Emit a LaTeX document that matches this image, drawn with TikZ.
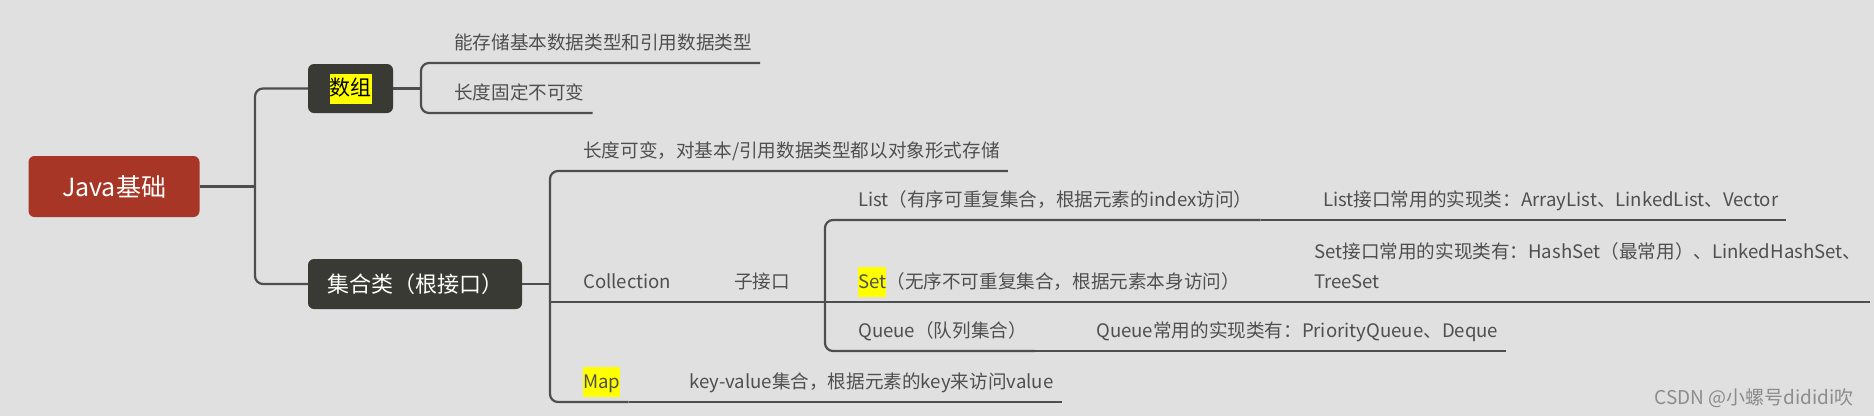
\documentclass[tikz,border=0pt]{standalone}
\usepackage{fontspec}
\setmainfont{Noto Sans CJK SC}
\usetikzlibrary{calc}

\definecolor{bgpaper}{HTML}{E0E0E0}
\definecolor{rootred}{HTML}{A83626}
\definecolor{boxdark}{HTML}{393A33}
\definecolor{linegray}{HTML}{4E4E4E}
\definecolor{txtgray}{HTML}{4F4F4F}
\definecolor{hlyellow}{HTML}{FFFF00}
\definecolor{markgray}{HTML}{8C8C8C}

\newcommand{\hlmark}[1]{{\setlength{\fboxsep}{0pt}\colorbox{hlyellow}{\rule[-8pt]{0pt}{30pt}#1}}}

\begin{document}
\begin{tikzpicture}[
    x=1pt, y=-1pt,
    rootbox/.style={rectangle, rounded corners=6pt, fill=rootred, text=white, font=\fontsize{25}{28}\selectfont, minimum width=171pt, minimum height=61pt},
    topbox/.style={rectangle, rounded corners=6pt, fill=boxdark, text=white, font=\fontsize{22}{26}\selectfont, minimum height=50pt},
    leafbase/.style={anchor=south west, inner xsep=8pt, inner ysep=8pt, text=txtgray, font=\fontsize{18.6}{30}\selectfont},
    leaf/.style={leafbase, text height=14pt, text depth=5pt},
    branch/.style={draw=linegray, line width=2.2pt},
    wmark/.style={text=markgray, font=\fontsize{19}{22}\selectfont, anchor=east}
]

\fill[bgpaper] (0,0) rectangle (1874,416);
\useasboundingbox (0,0) rectangle (1874,416);

\node[rootbox] (java) at (114,186.5) {Java基础};
\node[topbox, minimum width=85pt, minimum height=49pt, font=\fontsize{21}{24}\selectfont] (arr) at (350.5,88.5) {{\color{black}\hlmark{数组}}};
\node[topbox, minimum width=214pt] (coll) at (415,284) {集合类（根接口）};

\coordinate (jfork) at (255,186.5);
\coordinate (afork) at (421,88.5);
\coordinate (bfork) at (550,284);
\coordinate (cfork) at (825,302);

\node[leaf] (a1) at (446,63) {能存储基本数据类型和引用数据类型};
\node[leaf] (a2) at (446,113) {长度固定不可变};

\node[leaf] (b1) at (575,171) {长度可变，对基本/引用数据类型都以对象形式存储};
\node[leaf] (b2) at (575,302) {Collection};
\node[leaf] (sub) at (726,302) {子接口};
\node[leaf] (b3) at (575,402) {\hlmark{Map}};
\node[leaf] (mx) at (681,402) {key-value集合，根据元素的key来访问value};

\node[leaf] (c1) at (850,220) {List（有序可重复集合，根据元素的index访问）};
\node[leaf] (c1x) at (1315,220) {List接口常用的实现类：ArrayList、LinkedList、Vector};
\node[leaf] (c2) at (850,302) {\hlmark{Set}（无序不可重复集合，根据元素本身访问）};
\node[leafbase, align=left] (c2x) at (1306,302) {Set接口常用的实现类有：HashSet（最常用）、LinkedHashSet、\\TreeSet\rule[-5pt]{0pt}{5pt}};
\node[leaf] (c3) at (850,351) {Queue（队列集合）};
\node[leaf] (c3x) at (1088,351) {Queue常用的实现类有：PriorityQueue、Deque};

\node[wmark] (wm) at (1857,398) {CSDN @小螺号dididi吹};

\draw[branch] (java.east) -- (jfork);
\draw[branch, rounded corners=8pt] (arr.west) -| (jfork) |- (coll.west);

\draw[branch] (arr.east) -- (afork);
\draw[branch, rounded corners=8pt] (a1.south east) -- (a1.south west) -| (afork) |- (a2.south west) -- (a2.south east);

\draw[branch] (coll.east) -- (bfork);
\draw[branch, rounded corners=8pt] (b1.south east) -- (b1.south west) -| (bfork) |- (b3.south west) -- (b3.south east);
\draw[branch] (b3.south east) -- (mx.south west) -- (mx.south east);
\draw[branch] (b2.south west -| bfork) -- (b2.south east) -- (sub.south west) -- (sub.south east) -- (cfork);

\draw[branch, rounded corners=8pt] (c1.south east) -- (c1.south west) -| (cfork) |- (c3.south west) -- (c3.south east);
\draw[branch] (c1.south east) -- (c1x.south west) -- (c1x.south east);
\draw[branch] (cfork) -- (c2.south west) -- (c2.south east) -- (c2x.south west) -- (c2x.south east);
\draw[branch] (c3.south east) -- (c3x.south west) -- (c3x.south east);

\end{tikzpicture}
\end{document}
